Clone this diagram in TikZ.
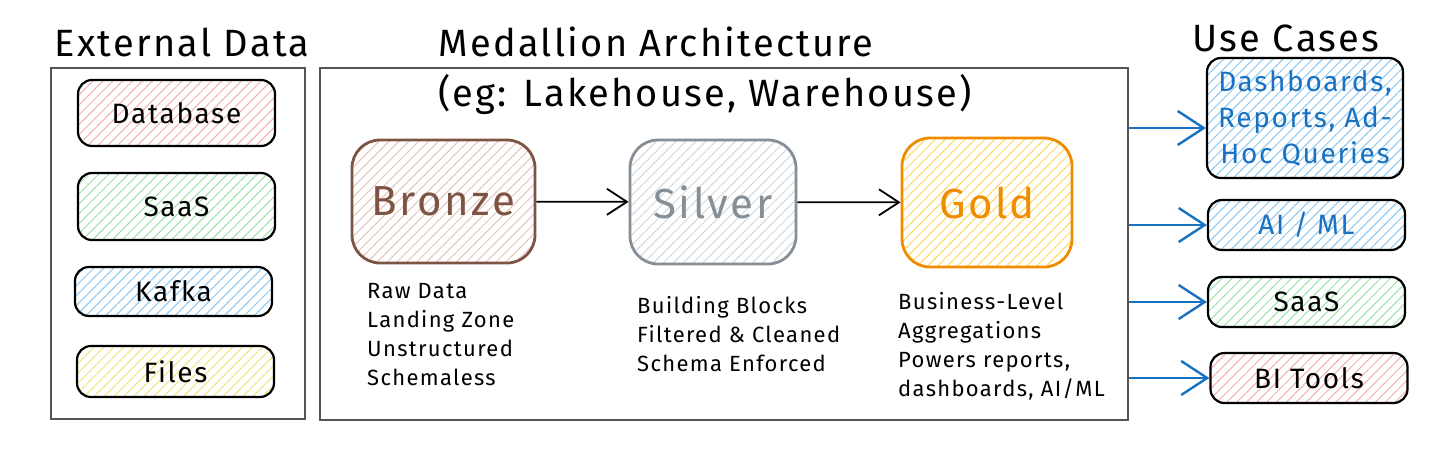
\documentclass[tikz,border=0pt]{standalone}
\usepackage{fontspec}
\setmainfont{Fira Sans}[LetterSpace=6]
\usetikzlibrary{arrows.meta,patterns.meta}

\definecolor{bronze}{HTML}{7D5444}
\definecolor{silver}{HTML}{868E96}
\definecolor{gold}{HTML}{F08C00}
\definecolor{ucblue}{HTML}{1971C2}
\definecolor{hred}{HTML}{F4B0B0}
\definecolor{hgreen}{HTML}{9CE2A6}
\definecolor{hblue}{HTML}{8CC8F2}
\definecolor{hyellow}{HTML}{F2E27E}
\definecolor{hbronze}{HTML}{E3C6BA}
\definecolor{hsilver}{HTML}{D3D7DB}
\definecolor{hgold}{HTML}{FFD75E}
\definecolor{frame}{HTML}{555555}

\tikzset{
  hatch/.style={pattern={Lines[angle=45,distance=7pt,line width=1pt]}, pattern color=#1},
  srcbox/.style={draw=black, line width=2.2pt, rounded corners=14pt, inner sep=0pt,
    minimum width=197pt, font=\fontsize{28}{32}\selectfont},
  layer/.style={draw=#1, text=#1, line width=2.8pt, rounded corners=28pt, inner sep=0pt,
    font=\fontsize{42}{46}\selectfont},
  container/.style={draw=frame, line width=1.8pt, inner sep=0pt},
  title/.style={font=\fontsize{38}{42}\selectfont, inner sep=0pt},
  desc/.style={font=\fontsize{22}{29}\selectfont, align=left, anchor=north west, inner sep=0pt},
  flow/.style={draw=black, line width=1.8pt, -{Straight Barb[length=20pt,width=26pt]}},
  feed/.style={draw=ucblue, line width=2.4pt, -{Straight Barb[length=26pt,width=34pt]}},
}

\begin{document}
\begin{tikzpicture}[x=1pt,y=-1pt]
  \useasboundingbox (0,0) rectangle (1456,461);

  % titles
  \node[title] (exttitle) at (182,42) {External Data};
  \node[title] (medtitle) at (656,42) {Medallion Architecture};
  \node[title] (medsub) at (705,94) {(eg: Lakehouse, Warehouse)};
  \node[title] (usetitle) at (1286,38) {Use Cases};

  % containers
  \node[container, minimum width=254pt, minimum height=351pt] (ext) at (178,243.5) {};
  \node[container, minimum width=808pt, minimum height=352pt] (medal) at (724,244) {};

  % external data
  \node[srcbox, hatch=hred, minimum height=66pt] (database) at (176.5,113) {Database};
  \node[srcbox, hatch=hgreen, minimum height=67pt] (saas) at (176.5,206.5) {SaaS};
  \node[srcbox, hatch=hblue, minimum height=49pt] (kafka) at (173.5,291.5) {Kafka};
  \node[srcbox, hatch=hyellow, minimum height=51pt] (files) at (175.5,371.5) {Files};

  % medallion layers
  \node[layer=bronze, hatch=hbronze, minimum width=183pt, minimum height=123pt] (bronze) at (443.5,201.5) {Bronze};
  \node[layer=silver, hatch=hsilver, minimum width=166pt, minimum height=124pt] (silver) at (713,202) {Silver};
  \node[layer=gold, hatch=hgold, minimum width=170pt, minimum height=129pt] (gold) at (987,202.5) {Gold};

  \node[desc] (bronzedesc) at (367,283) {Raw Data\\Landing Zone\\Unstructured\\Schemaless};
  \node[desc] (silverdesc) at (637,296) {Building Blocks\\Filtered \& Cleaned\\Schema Enforced};
  \node[desc] (golddesc) at (898,292) {Business-Level\\Aggregations\\Powers reports,\\dashboards, AI/ML};

  \draw[flow] (bronze) -- (silver);
  \draw[flow] (silver) -- (gold);

  % use cases
  \node[srcbox, hatch=hblue, text=ucblue, align=center, minimum width=196pt, minimum height=120pt,
    font=\fontsize{28}{36}\selectfont] (dashboards) at (1305,118) {Dashboards,\\Reports, Ad-\\Hoc Queries};
  \node[srcbox, hatch=hblue, text=ucblue, minimum height=50pt] (aiml) at (1306.5,225) {AI / ML};
  \node[srcbox, hatch=hgreen, minimum height=50pt] (saasuse) at (1306.5,302) {SaaS};
  \node[srcbox, hatch=hred, minimum height=50pt] (bitools) at (1309,378) {BI Tools};

  \draw[feed] (medal.east |- 0,128) -- (dashboards.west |- 0,128);
  \draw[feed] (medal.east |- aiml.west) -- (aiml.west);
  \draw[feed] (medal.east |- saasuse.west) -- (saasuse.west);
  \draw[feed] (medal.east |- bitools.west) -- (bitools.west);
\end{tikzpicture}
\end{document}
